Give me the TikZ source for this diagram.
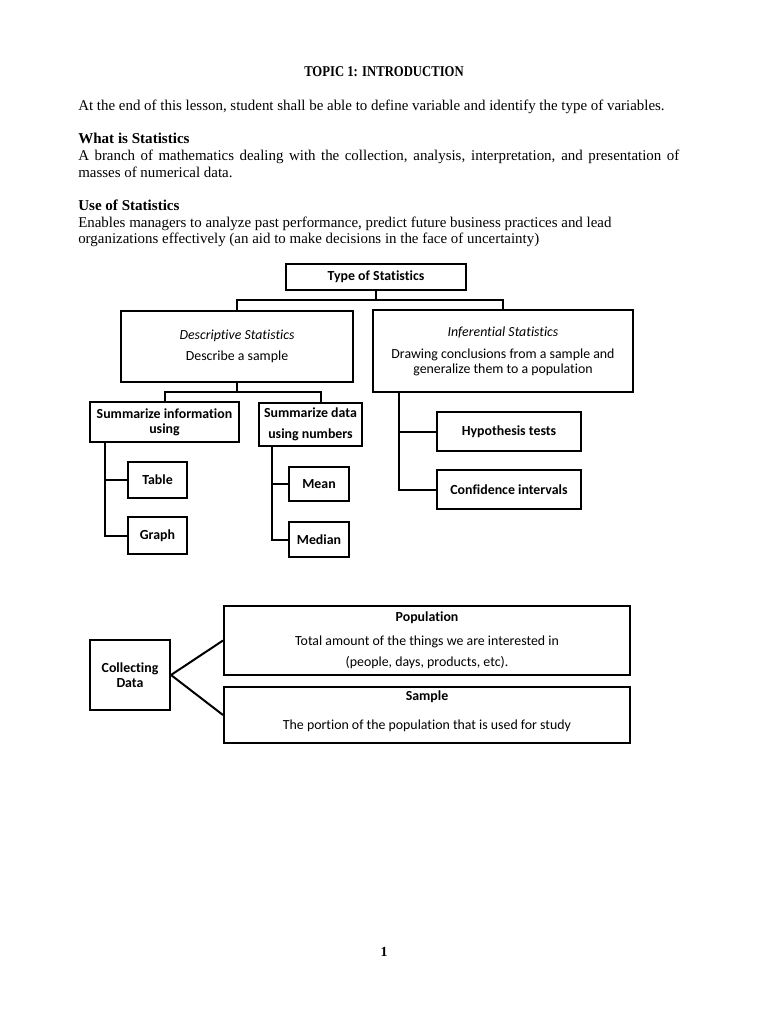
\documentclass[tikz,border=0pt]{standalone}
\usepackage{graphicx}
\usepackage{fontspec}
\setmainfont{Liberation Serif}
\newfontfamily\boxfont{Carlito}[Ligatures=NoCommon]
\begin{document}
\begin{tikzpicture}[x=0.75pt,y=-0.75pt,
  box/.style={draw, line width=1.5pt, inner sep=0pt, align=center,
    font=\boxfont\fontsize{10.4}{11.25}\selectfont},
  boldbox/.style={box, font=\boxfont\bfseries\fontsize{10.4}{11.25}\selectfont},
  conn/.style={line width=1.5pt},
  body/.style={anchor=base west, inner sep=0pt, font=\fontsize{11.2}{12}\selectfont},
  head/.style={body, font=\bfseries\fontsize{11.3}{12}\selectfont}]
\useasboundingbox (0,0) rectangle (768,1024);

% ---- text ----
\node[anchor=base, inner sep=0pt, font=\bfseries\fontsize{11.2}{12}\selectfont] (title) at (384,77) {\scalebox{0.85}[1]{TOPIC 1: INTRODUCTION}};
\node[body] (t1) at (78,110) {At the end of this lesson, student shall be able to define variable and identify the type of variables.};
\node[head] (h1) at (78,143) {What is Statistics};
\node[body] (t2) at (78,160) {\makebox[450.75pt][s]{A branch of mathematics dealing with the collection, analysis, interpretation, and presentation of}};
\node[body] (t3) at (78,177) {masses of numerical data.};
\node[head] (h2) at (78,210) {Use of Statistics};
\node[body] (t4) at (78,227) {Enables managers to analyze past performance, predict future business practices and lead};
\node[body] (t5) at (78,243) {organizations effectively (an aid to make decisions in the face of uncertainty)};
\node[anchor=base, inner sep=0pt, font=\bfseries\fontsize{10.4}{12}\selectfont] (pg) at (384,956) {1};

% ---- boxes ----
\node[boldbox, minimum width=135pt, minimum height=19.5pt] (type) at (376,277) {Type of Statistics};
\node[box, minimum width=174pt, minimum height=53.25pt] (desc) at (237,346.5) {\textit{Descriptive Statistics}\\[4.5pt] Describe a sample};
\node[box, minimum width=195pt, minimum height=61.5pt] (infer) at (503,351) {\textit{Inferential Statistics}\\[5.25pt] Drawing conclusions from a sample and\\ generalize them to a population};
\node[boldbox, minimum width=111.75pt, minimum height=30pt] (suminfo) at (164.5,422) {Summarize information\\ using};
\node[boldbox, minimum width=77.25pt, minimum height=32.25pt] (sumdata) at (310.5,424.5) {Summarize data\\[4.5pt] using numbers};
\node[boldbox, minimum width=44.25pt, minimum height=27pt] (table) at (157.5,480) {Table};
\node[boldbox, minimum width=44.25pt, minimum height=27.75pt] (graph) at (157.5,535.5) {Graph};
\node[boldbox, minimum width=45pt, minimum height=25.5pt] (mean) at (319,484) {Mean};
\node[boldbox, minimum width=45pt, minimum height=26.25pt] (median) at (319,539.5) {Median};
\node[boldbox, minimum width=108pt, minimum height=29.25pt] (hyp) at (509,431.5) {Hypothesis tests};
\node[boldbox, minimum width=108pt, minimum height=29.25pt] (conf) at (509,489.5) {Confidence intervals};
\node[boldbox, minimum width=60pt, minimum height=52.5pt] (collect) at (130,675) {Collecting\\ Data};
\node[box, minimum width=304.5pt, minimum height=51.75pt] (pop) at (427,640.5) {\textbf{Population}\\[6.75pt] Total amount of the things we are interested in\\[4.5pt] (people, days, products, etc).};
\node[box, minimum width=304.5pt, minimum height=42pt] (samp) at (427,715) {\textbf{Sample}\\[10.5pt] The portion of the population that is used for study\\[-4pt]\mbox{}};

% ---- connectors ----
\coordinate (b1) at (376,300);
\draw[conn] (type.south) -- (b1);
\draw[conn] (desc.north) -- (desc.north |- b1) -- (infer.north |- b1) -- (infer.north);

\coordinate (b2) at (237,392);
\coordinate (c2) at (321,392);
\draw[conn] (desc.south) -- (b2);
\draw[conn] (suminfo.north) -- (suminfo.north |- b2) -- (c2) -- (c2 |- sumdata.north);

\coordinate (sp1) at (105,442);
\draw[conn] (sp1) |- (graph.west);
\draw[conn] (sp1 |- table.west) -- (table.west);

\coordinate (sp2) at (272,446);
\draw[conn] (sp2) |- (median.west);
\draw[conn] (sp2 |- mean.west) -- (mean.west);

\coordinate (sp3) at (399,392);
\draw[conn] (sp3) |- (conf.west);
\draw[conn] (sp3 |- hyp.west) -- (hyp.west);

\draw[conn] (pop.west) -- (collect.east) -- (samp.west);
\end{tikzpicture}
\end{document}
